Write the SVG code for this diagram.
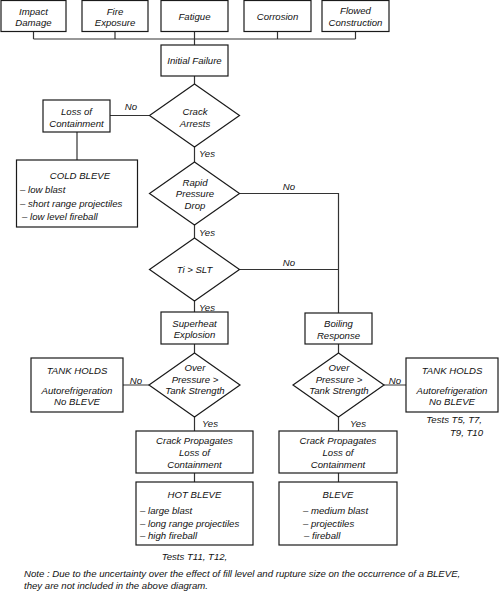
<svg xmlns="http://www.w3.org/2000/svg" width="499" height="592" viewBox="0 0 499 592">
<style>
.b{fill:#fff;stroke:#1a1a1a;stroke-width:1.2}
.c{fill:none;stroke:#333;stroke-width:1.2}
text{font-family:"Liberation Sans",Arial,Helvetica,sans-serif;font-size:9.6px;font-style:italic;fill:#111}
.m{text-anchor:middle}
.e{text-anchor:end}
</style>
<rect width="499" height="592" fill="#fff"/>
<g id="connectors">
<path class="c" d="M33.5,31.5V39M115,31.5V39M194.5,31.5V45M277.5,31.5V39M355.5,31.5V39M33.5,39H355.5"/>
<path class="c" d="M194.5,76V84M194.5,147V162M194.5,225V238M194.5,301V312M194.5,344V353M194.5,417V431M194.5,473V482"/>
<path class="c" d="M110,115.5H149M77,132V160"/>
<path class="c" d="M239.5,193.5H338.5V313M239.5,269.5H338.5"/>
<path class="c" d="M338.5,344V353M338.5,417V431M338.5,473V482"/>
<path class="c" d="M123,385H149M384,385H406"/>
</g>
<g id="impact"><rect class="b" x="1" y="0.5" width="65" height="31"/><text class="m" x="33.5" y="14.5">Impact</text><text class="m" x="33.5" y="25.5">Damage</text></g>
<g id="fire"><rect class="b" x="82" y="0.5" width="66" height="31"/><text class="m" x="115" y="14.5">Fire</text><text class="m" x="115" y="25.5">Exposure</text></g>
<g id="fatigue"><rect class="b" x="161" y="0.5" width="67" height="31"/><text class="m" x="194.5" y="19.5">Fatigue</text></g>
<g id="corrosion"><rect class="b" x="244" y="0.5" width="67" height="31"/><text class="m" x="277.5" y="19.5">Corrosion</text></g>
<g id="flowed"><rect class="b" x="322" y="0.5" width="67" height="31"/><text class="m" x="355.5" y="13.5">Flowed</text><text class="m" x="355.5" y="25.5">Construction</text></g>
<g id="initial"><rect class="b" x="161" y="45" width="67" height="31"/><text class="m" x="194.5" y="64">Initial Failure</text></g>
<g id="crack-arrests"><polygon class="b" points="194.5,84 239.5,115.5 194.5,147 149.5,115.5"/><text class="m" x="195" y="114.5">Crack</text><text class="m" x="195" y="126.5">Arrests</text></g>
<g id="loss"><rect class="b" x="43" y="100" width="67" height="32"/><text class="m" x="76.5" y="114.5">Loss of</text><text class="m" x="76.5" y="126.5">Containment</text></g>
<g id="cold"><rect class="b" x="16.5" y="160" width="121" height="67"/><text class="m" x="80" y="178.5">COLD BLEVE</text><text x="20" y="192.5">– low blast</text><text x="20" y="207">– short range projectiles</text><text x="22" y="219.5">– low level fireball</text></g>
<g id="rapid"><polygon class="b" points="194.5,162 239.5,193.5 194.5,225 149.5,193.5"/><text class="m" x="195" y="185.5">Rapid</text><text class="m" x="195" y="196.5">Pressure</text><text class="m" x="195" y="208.5">Drop</text></g>
<g id="ti"><polygon class="b" points="194.5,238 239.5,269.5 194.5,301 149.5,269.5"/><text class="m" x="194.5" y="273">Ti &gt; SLT</text></g>
<g id="superheat"><rect class="b" x="161" y="312" width="67" height="32"/><text class="m" x="194.5" y="326.5">Superheat</text><text class="m" x="194.5" y="337.5">Explosion</text></g>
<g id="boiling"><rect class="b" x="305" y="313" width="67" height="31"/><text class="m" x="338.5" y="327">Boiling</text><text class="m" x="338.5" y="338.5">Response</text></g>
<g id="over-left"><polygon class="b" points="194.5,353 240,385 194.5,417 149,385"/><text class="m" x="195" y="370.5">Over</text><text class="m" x="195" y="382.5">Pressure &gt;</text><text class="m" x="195" y="393.5">Tank Strength</text></g>
<g id="over-right"><polygon class="b" points="338.5,353 384,385 338.5,417 293,385"/><text class="m" x="339" y="370.5">Over</text><text class="m" x="339" y="382.5">Pressure &gt;</text><text class="m" x="339" y="393.5">Tank Strength</text></g>
<g id="hold-left"><rect class="b" x="31" y="358" width="92" height="54"/><text class="m" x="77" y="373.5">TANK HOLDS</text><text class="m" x="77" y="393.5">Autorefrigeration</text><text class="m" x="77" y="404.5">No BLEVE</text></g>
<g id="hold-right"><rect class="b" x="406" y="358" width="92" height="54"/><text class="m" x="452" y="373.5">TANK HOLDS</text><text class="m" x="452" y="393.5">Autorefrigeration</text><text class="m" x="452" y="404.5">No BLEVE</text><text class="e" x="482" y="422.5">Tests T5, T7,</text><text class="e" x="483" y="435.5">T9, T10</text></g>
<g id="prop-left"><rect class="b" x="136" y="431" width="117" height="42"/><text class="m" x="194.5" y="443.5">Crack Propagates</text><text class="m" x="194.5" y="455.5">Loss of</text><text class="m" x="194.5" y="467.5">Containment</text></g>
<g id="prop-right"><rect class="b" x="279" y="431" width="118" height="42"/><text class="m" x="338" y="443.5">Crack Propagates</text><text class="m" x="338" y="455.5">Loss of</text><text class="m" x="338" y="467.5">Containment</text></g>
<g id="hot"><rect class="b" x="136" y="482" width="117" height="63"/><text class="m" x="194.5" y="497.5">HOT BLEVE</text><text x="140" y="514">– large blast</text><text x="140" y="526.5">– long range projectiles</text><text x="140" y="538.5">– high fireball</text><text class="m" x="194.5" y="560">Tests T11, T12,</text></g>
<g id="bleve"><rect class="b" x="279" y="482" width="118" height="63"/><text class="m" x="338" y="497.5">BLEVE</text><text x="303" y="514">– medium blast</text><text x="303" y="526.5">– projectiles</text><text x="304" y="538.5">– fireball</text></g>
<g id="labels">
<text class="m" x="131" y="109.5">No</text>
<text x="199" y="156.5">Yes</text>
<text class="m" x="289" y="189.5">No</text>
<text x="199" y="235.5">Yes</text>
<text class="m" x="289" y="266">No</text>
<text x="199" y="310.5">Yes</text>
<text class="m" x="136" y="384">No</text>
<text class="m" x="395" y="384">No</text>
<text x="202" y="426.5">Yes</text>
<text x="350" y="426.5">Yes</text>
</g>
<g id="note"><text x="24" y="576.5">Note : Due to the uncertainty over the effect of fill level and rupture size on the occurrence of a BLEVE,</text><text x="24" y="588.5">they are not included in the above diagram.</text></g>
</svg>
